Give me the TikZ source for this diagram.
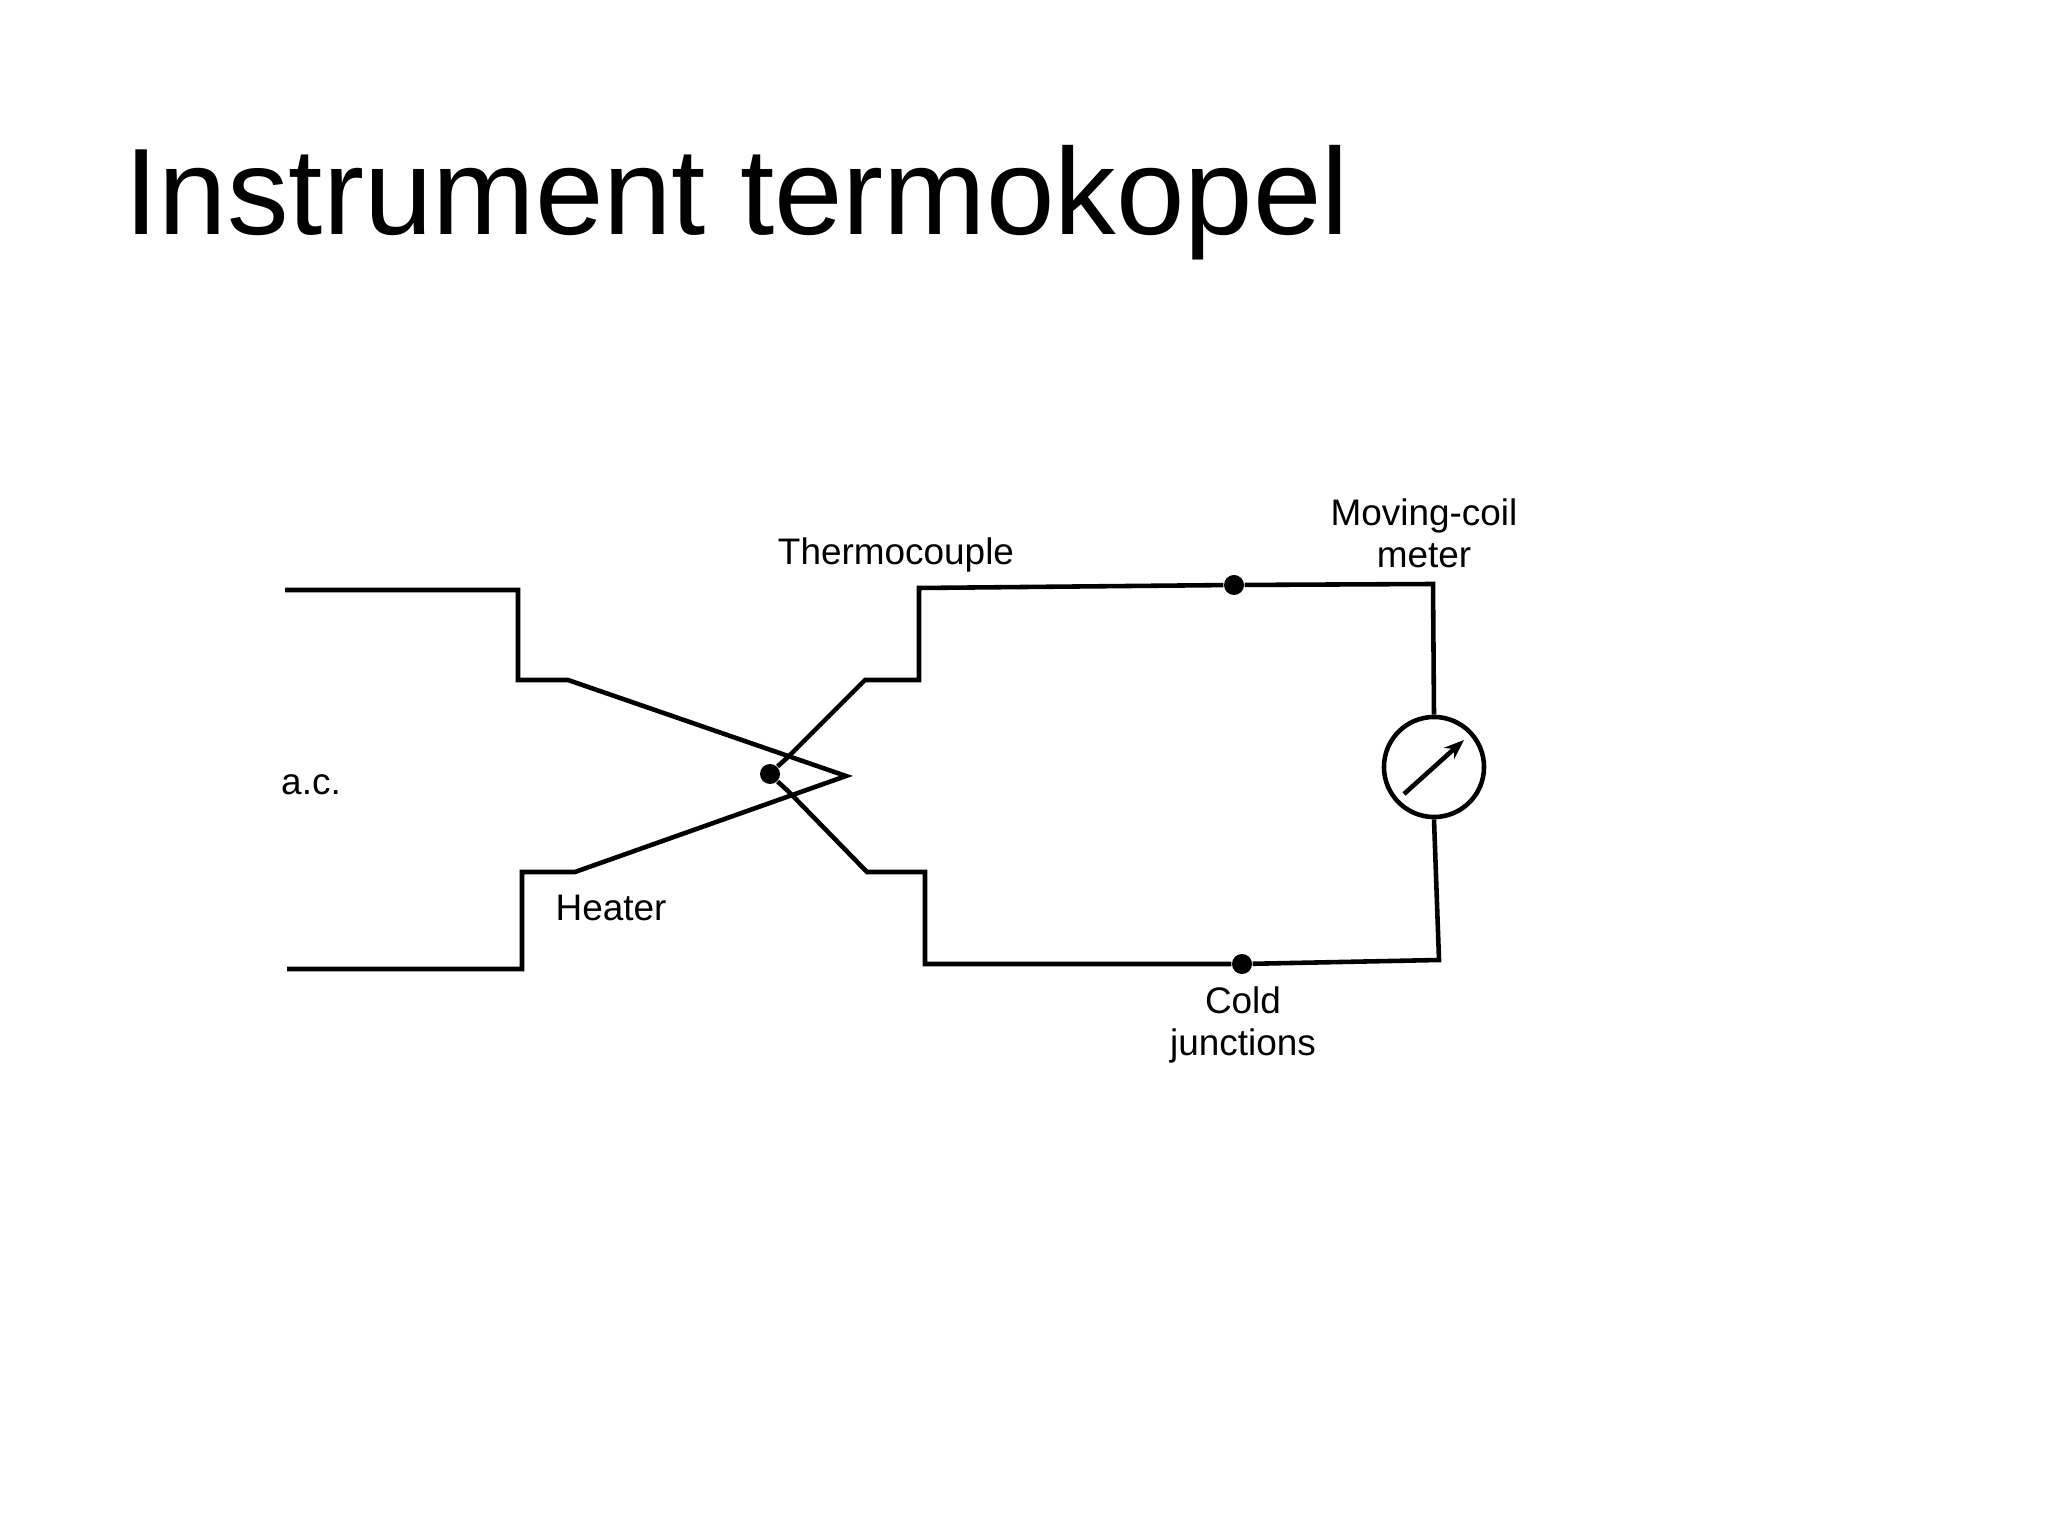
\documentclass[tikz,border=0pt]{standalone}
\usepackage{fontspec}
\setmainfont{Liberation Sans}
\usetikzlibrary{arrows.meta}
\tikzset{
  wire/.style={line width=1.3pt, line join=miter},
  lbl/.style={font=\fontsize{10.5}{12}\selectfont, align=center, inner sep=0pt},
  jdot/.style={circle, fill, inner sep=0pt, minimum size=0.2cm}
}
\begin{document}
\begin{tikzpicture}[x=0.01cm,y=-0.01cm]
\useasboundingbox (0,0) rectangle (2048,1534);
\node[anchor=base west, inner sep=0pt, font=\fontsize{35}{40}\selectfont] (title) at (124,235) {Instrument termokopel};

% heater
\coordinate (tip) at (846,776);
\draw[wire] (285,590) -- (518,590) -- (518,680) -- (568,680) -- (tip)
  -- (575,872) -- (522,872) -- (522,969) -- (287,969);

% thermocouple and meter
\node[jdot] (hot) at (770,774) {};
\node[jdot] (cju) at (1234,585) {};
\node[jdot] (cjl) at (1242,964) {};
\node[circle, draw, line width=1.3pt, minimum size=1cm, inner sep=0pt] (meter) at (1434,767) {};
\draw[wire] (hot.north east) -- (788,757) -- (865,680) -- (919,680) -- (919,588)
  -- (cju) -- (1433,584) -- (meter.north);
\draw[wire] (hot.south east) -- (788,791) -- (867,872) -- (925,872) -- (925,964)
  -- (cjl) -- (1439,960) -- (meter.south);
\draw[line width=1.3pt, -{Stealth[length=0.2cm]}] (meter.center) ++(-0.3cm,-0.27cm) -- ++(0.6cm,0.54cm);

% labels
\node[lbl] (ac) at (311,785) {a.c.};
\node[lbl] (heater) at (611,908) {Heater};
\node[lbl] (tc) at (896,555) {Thermocouple};
\node[lbl] (mc) at (1424,533) {Moving-coil\\meter};
\node[lbl] (cold) at (1243,1025) {Cold\\junctions};
\end{tikzpicture}
\end{document}
